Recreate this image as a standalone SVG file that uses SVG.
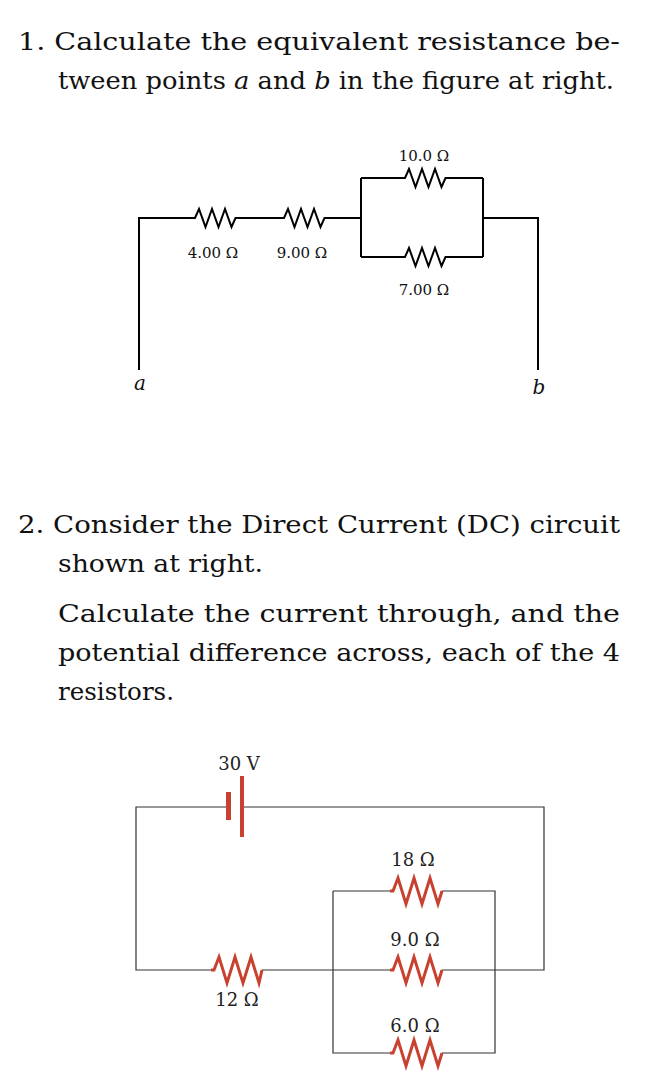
<svg xmlns="http://www.w3.org/2000/svg" width="648" height="1088" viewBox="0 0 648 1088">
<style>
.t{font-family:"DejaVu Serif","Liberation Serif",serif;font-size:25px;fill:#111}
.l{font-family:"DejaVu Serif","Liberation Serif",serif;font-size:15px;fill:#111;text-anchor:middle}
.l2{font-family:"DejaVu Serif","Liberation Serif",serif;font-size:18px;fill:#222;text-anchor:middle}
.w{fill:none;stroke:#000;stroke-width:2}
.w2{fill:none;stroke:#333;stroke-width:1.2}
.r{fill:none;stroke:#c8412f;stroke-width:3;stroke-linejoin:miter}
</style>
<rect width="648" height="1088" fill="#fff"/>
<text class="t" x="18" y="50" textLength="602" lengthAdjust="spacingAndGlyphs">1. Calculate the equivalent resistance be-</text>
<text class="t" x="58" y="89" textLength="556" lengthAdjust="spacingAndGlyphs">tween points <tspan font-style="italic">a</tspan> and <tspan font-style="italic">b</tspan> in the figure at right.</text>
<g id="circuit1-wires" class="w">
<path d="M139,370 V218 H190 M238,218 H279 M327,218 H361 M361,178 V257 M361,178 H400 M447,178 H483 M361,257 H400 M447,257 H483 M483,178 V257 M483,218 H538 V370"/>
</g>
<g id="r4" class="w"><path d="M190,218 l5,0 l4,-9 l6.5,18 l6.5,-18 l6.5,18 l6.5,-18 l6.5,18 l4,-9 l3,0"/></g>
<g id="r9" class="w"><path d="M279,218 l5,0 l4,-9 l6.5,18 l6.5,-18 l6.5,18 l6.5,-18 l6.5,18 l4,-9 l3,0"/></g>
<g id="r10" class="w"><path d="M400,178 l5,0 l4,-9 l6.5,18 l6.5,-18 l6.5,18 l6.5,-18 l6.5,18 l4,-9 l2,0"/></g>
<g id="r7" class="w"><path d="M400,257 l5,0 l4,-9 l6.5,18 l6.5,-18 l6.5,18 l6.5,-18 l6.5,18 l4,-9 l2,0"/></g>
<text class="l" x="424" y="161">10.0 Ω</text>
<text class="l" x="213" y="258">4.00 Ω</text>
<text class="l" x="302" y="258">9.00 Ω</text>
<text class="l" x="424" y="295">7.00 Ω</text>
<text class="l" x="140" y="390" style="font-size:20px;font-style:italic">a</text>
<text class="l" x="539" y="394" style="font-size:20px;font-style:italic">b</text>
<text class="t" x="18" y="533" textLength="602" lengthAdjust="spacingAndGlyphs">2. Consider the Direct Current (DC) circuit</text>
<text class="t" x="58" y="572" textLength="205" lengthAdjust="spacingAndGlyphs">shown at right.</text>
<text class="t" x="58" y="622" textLength="562" lengthAdjust="spacingAndGlyphs">Calculate the current through, and the</text>
<text class="t" x="58" y="661" textLength="562" lengthAdjust="spacingAndGlyphs">potential difference across, each of the 4</text>
<text class="t" x="58" y="700" textLength="116" lengthAdjust="spacingAndGlyphs">resistors.</text>
<g id="circuit2-wires" class="w2">
<path d="M228,807 H136 V970 H211 M262,970 H390 M442,970 H544 V807 H242 M333,891 V1053 H390 M442,1053 H495 V891 H442 M390,891 H333"/>
</g>
<g id="battery"><rect x="226" y="792" width="5" height="28" fill="#c8412f"/><rect x="240" y="776" width="4" height="61" fill="#c8412f"/></g>
<g id="r18"><path class="r" d="M390,891 l3,0 l5,-13 l8,26 l8,-26 l8,26 l8,-26 l8,26 l4,-13"/></g>
<g id="r9b"><path class="r" d="M390,970 l3,0 l5,-13 l8,26 l8,-26 l8,26 l8,-26 l8,26 l4,-13"/></g>
<g id="r6"><path class="r" d="M390,1053 l3,0 l5,-13 l8,26 l8,-26 l8,26 l8,-26 l8,26 l4,-13"/></g>
<g id="r12"><path class="r" d="M211,970 l3,0 l5,-13 l8,26 l8,-26 l8,26 l8,-26 l8,26 l3,-13"/></g>
<text class="l2" x="239" y="770">30 V</text>
<text class="l2" x="413" y="866">18 Ω</text>
<text class="l2" x="415" y="946">9.0 Ω</text>
<text class="l2" x="237" y="1006">12 Ω</text>
<text class="l2" x="415" y="1032">6.0 Ω</text>
</svg>
